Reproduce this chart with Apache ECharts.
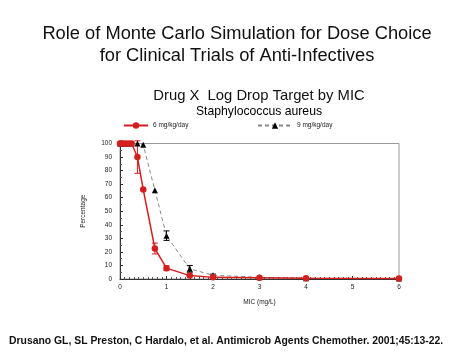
<!DOCTYPE html>
<html><head><meta charset="utf-8">
<script src="https://cdn.jsdelivr.net/npm/echarts@6/dist/echarts.min.js"></script>
<style>html,body{margin:0;padding:0;background:#fff}#c{width:474px;height:355px}</style>
</head><body><div id="c"></div>
<script>
const micValues   = [0, 0.03, 0.06, 0.125, 0.19, 0.25, 0.375, 0.5, 0.75, 1, 1.5, 2, 3, 4, 6];
const dose6       = [100, 100, 100, 100, 100, 100, 90, 66, 22.5, 8, 2.5, 1.2, 1, 0.5, 0.3];
const dose6Err    = [0, 0, 0, 0, 0, 0, 12, 0, 4, 1.8, 0.5, 0, 0, 0, 0];
const dose9       = [100, 100, 100, 100, 100, 100, 100, 99, 65.5, 32, 7.5, 2.8, 1.2, 0.6, 0.3];
const dose9Err    = [0, 0, 0, 0, 0, 0, 0, 0, 0, 3.5, 2.5, 0.8, 0, 0, 0];
const seriesNames = ['6 mg/kg/day', '9 mg/kg/day'];
const xTickLabels = ['0', '1', '2', '3', '4', '5', '6'];

const RED = '#d41f1f';
const pts = (ys) => micValues.map((x, i) => [x, ys[i]]);
const errPts = (ys, es) => micValues.map((x, i) => [x, ys[i], es[i]]).filter(d => d[2] > 0);

function errRender(color) {
  return function (params, api) {
    const x = api.value(0), y = api.value(1), e = api.value(2);
    const lo = api.coord([x, y - e]), hi = api.coord([x, y + e]);
    const w = 3;
    const style = { stroke: color, lineWidth: 1 };
    return { type: 'group', children: [
      { type: 'line', shape: { x1: lo[0], y1: lo[1], x2: hi[0], y2: hi[1] }, style },
      { type: 'line', shape: { x1: lo[0] - w, y1: lo[1], x2: lo[0] + w, y2: lo[1] }, style },
      { type: 'line', shape: { x1: hi[0] - w, y1: hi[1], x2: hi[0] + w, y2: hi[1] }, style }
    ]};
  };
}

const chart = echarts.init(document.getElementById('c'), null, { renderer: 'canvas' });
const FONT = 'Liberation Sans';
chart.setOption({
  animation: false,
  backgroundColor: '#fff',
  textStyle: { fontFamily: FONT },
  title: [
    { text: 'Role of Monte Carlo Simulation for Dose Choice\nfor Clinical Trials of Anti-Infectives',
      left: 'center', top: 18,
      textStyle: { fontFamily: FONT, fontSize: 18.3, fontWeight: 'normal', color: '#111', lineHeight: 22 } },
    { text: 'Drug X  Log Drop Target by MIC', left: 254, textAlign: 'center', top: 83,
      textStyle: { fontFamily: FONT, fontSize: 14.8, fontWeight: 'normal', color: '#111' } },
    { text: 'Staphylococcus aureus', left: 254, textAlign: 'center', top: 101,
      textStyle: { fontFamily: FONT, fontSize: 12.2, fontWeight: 'normal', color: '#000' } },
    { text: 'Drusano GL, SL Preston, C Hardalo, et al. Antimicrob Agents Chemother. 2001;45:13-22.',
      left: 4, top: 331,
      textStyle: { fontFamily: FONT, fontSize: 10.4, fontWeight: 'bold', color: '#111' } }
  ],
  legend: [
    { data: [seriesNames[0]], left: 118, top: 117, itemWidth: 24, itemHeight: 8, itemGap: 4,
      textStyle: { fontSize: 6.5, color: '#222', fontFamily: FONT } },
    { data: [seriesNames[1]], left: 252, top: 117, itemWidth: 34, itemHeight: 8,
      textStyle: { fontSize: 6.5, color: '#222', fontFamily: FONT } }
  ],
  grid: { left: 120, right: 75, top: 143.5, bottom: 76, show: true, borderColor: '#999', borderWidth: 1 },
  xAxis: {
    type: 'value', min: 0, max: 6, interval: 1,
    name: 'MIC (mg/L)', nameLocation: 'middle', nameGap: 20,
    nameTextStyle: { fontSize: 6.5, color: '#222' },
    axisLine: { lineStyle: { color: '#333' } },
    axisTick: { inside: true, length: 3, lineStyle: { color: '#333' } },
    minorTick: { show: true, splitNumber: 10, length: 2, lineStyle: { color: '#555' } },
    axisLabel: { fontSize: 6.5, color: '#222', margin: 5, formatter: (v) => xTickLabels[Math.round(v)] },
    splitLine: { show: false }
  },
  yAxis: {
    type: 'value', min: 0, max: 100, interval: 10,
    name: 'Percentage', nameLocation: 'middle', nameGap: 33, nameRotate: 90,
    nameTextStyle: { fontSize: 6.5, color: '#222' },
    axisLine: { show: true, lineStyle: { color: '#333' } },
    axisTick: { show: true, inside: true, length: 3, lineStyle: { color: '#333' } },
    minorTick: { show: true, splitNumber: 2, length: 2, lineStyle: { color: '#555' } },
    axisLabel: { fontSize: 6.5, color: '#222', margin: 8 },
    splitLine: { show: false }
  },
  series: [
    { name: seriesNames[1], type: 'line', data: pts(dose9), symbol: 'triangle', symbolSize: 6,
      itemStyle: { color: '#000' }, lineStyle: { color: '#888', width: 1, type: [4, 3] }, z: 3 },
    { name: seriesNames[0], type: 'line', data: pts(dose6), symbol: 'circle', symbolSize: 6.5,
      itemStyle: { color: RED }, lineStyle: { color: RED, width: 1.5 }, z: 4 },
    { type: 'custom', renderItem: errRender('#000'), data: errPts(dose9, dose9Err), z: 2,
      encode: { x: 0, y: [1] } },
    { type: 'custom', renderItem: errRender(RED), data: errPts(dose6, dose6Err), z: 2,
      encode: { x: 0, y: [1] } }
  ]
});
</script></body></html>
